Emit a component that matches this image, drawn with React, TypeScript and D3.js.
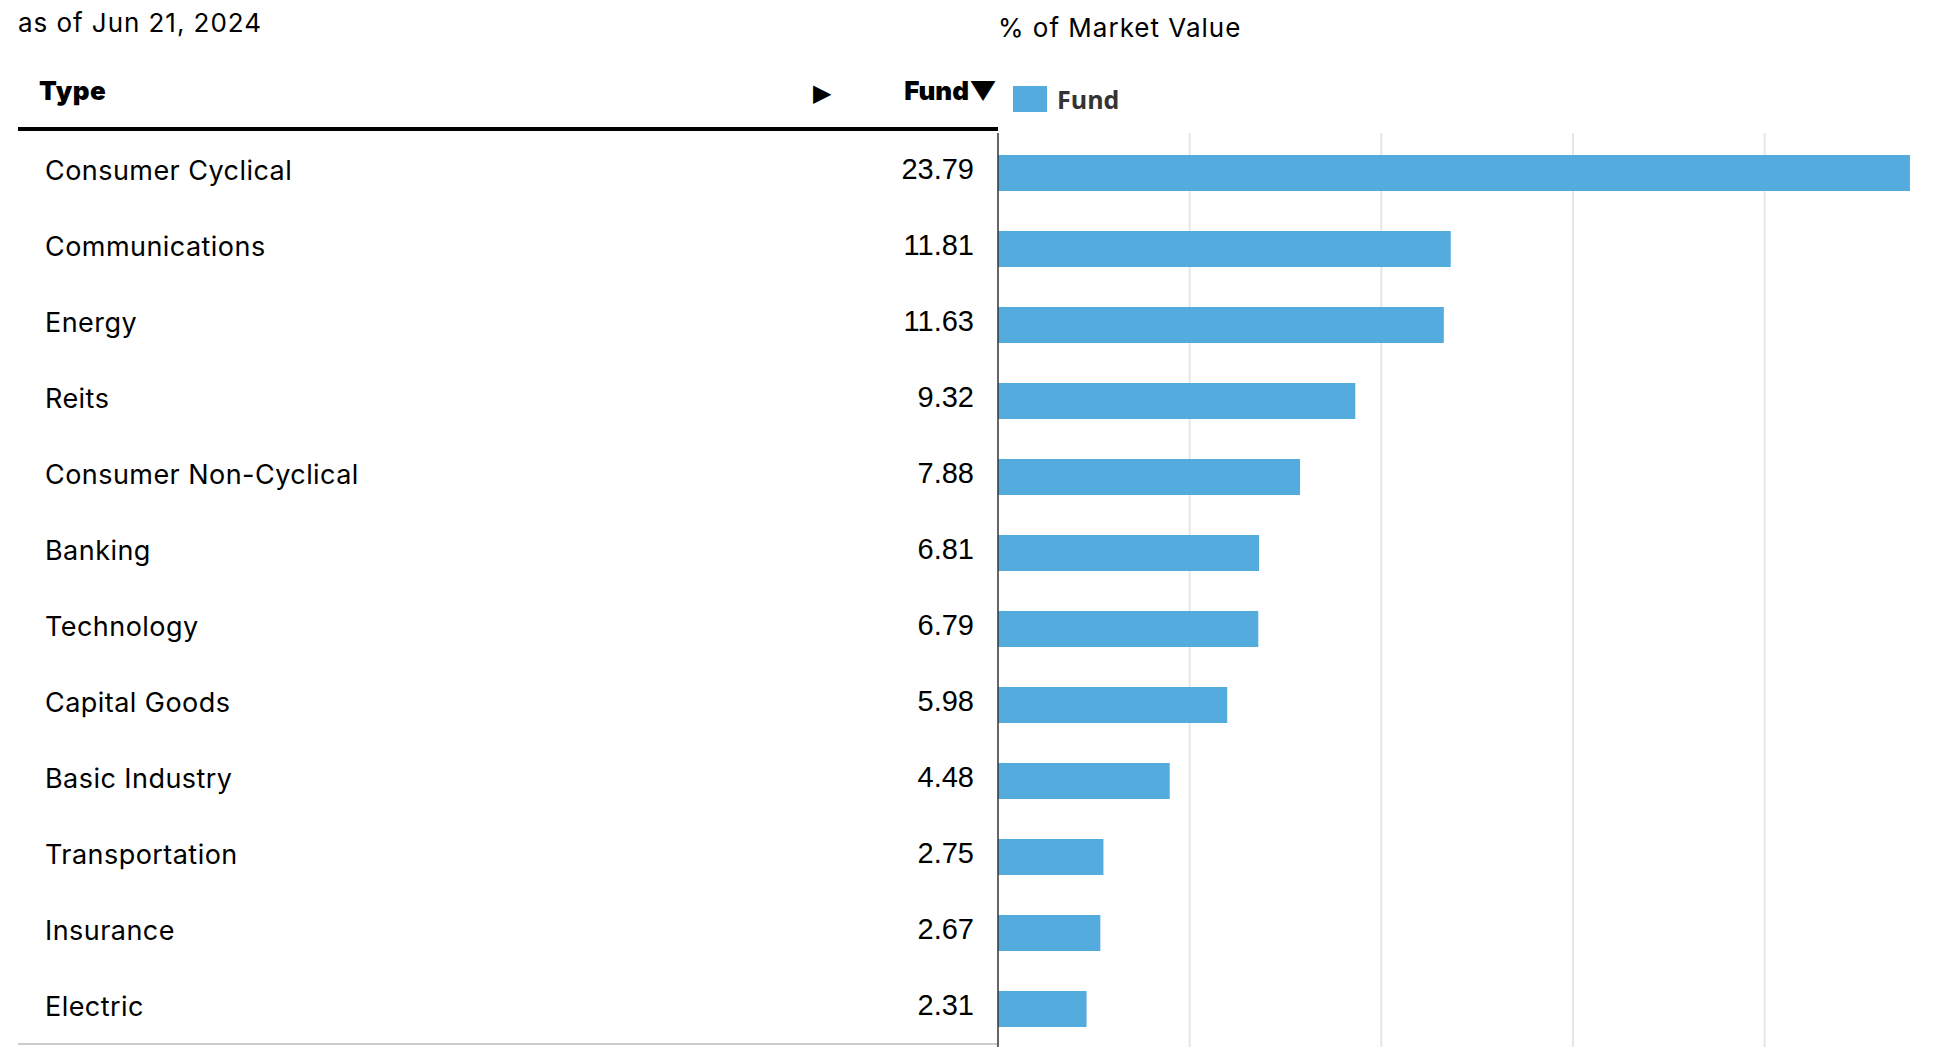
import * as d3 from "d3";
import { useEffect, useRef } from "react";

const categories = [
  "Consumer Cyclical",
  "Communications",
  "Energy",
  "Reits",
  "Consumer Non-Cyclical",
  "Banking",
  "Technology",
  "Capital Goods",
  "Basic Industry",
  "Transportation",
  "Insurance",
  "Electric",
];
const fundValues = [23.79, 11.81, 11.63, 9.32, 7.88, 6.81, 6.79, 5.98, 4.48, 2.75, 2.67, 2.31];
const gridTicks = [5, 10, 15, 20];
const asOfLabel = "as of Jun 21, 2024";
const chartTitle = "% of Market Value";
const seriesName = "Fund";

const BAR = "#54abde";
const LABEL_FONT = "Inter, Roboto, sans-serif";
const NUM_FONT = "'Liberation Sans', Arial, sans-serif";

const App = () => {
  const svgRef = useRef(null);
  const width = 1936;
  const height = 1052;

  useEffect(() => {
    const svg = d3.select(svgRef.current).attr("viewBox", `0 0 ${width} ${height}`);
    svg.selectAll("*").remove();

    const tableLeft = 18;
    const axisX = 998;
    const plotTop = 133;
    const plotBottom = 1047;

    const xScale = d3.scaleLinear().domain([0, 24]).range([axisX, 1918]);
    const yScale = d3
      .scaleBand()
      .domain(categories)
      .range([135, 1047])
      .paddingInner(40 / 76)
      .paddingOuter(20 / 76);

    // top labels
    svg
      .append("text")
      .attr("x", tableLeft)
      .attr("y", 32)
      .attr("font-family", LABEL_FONT)
      .attr("font-size", 26)
      .attr("letter-spacing", 0.95)
      .attr("fill", "#000")
      .text(asOfLabel);

    svg
      .append("text")
      .attr("x", axisX)
      .attr("y", 37)
      .attr("font-family", LABEL_FONT)
      .attr("font-size", 26)
      .attr("letter-spacing", 1)
      .attr("fill", "#000")
      .text(chartTitle);

    // table header
    svg
      .append("text")
      .attr("x", 39)
      .attr("y", 100)
      .attr("font-family", LABEL_FONT)
      .attr("font-size", 26)
      .attr("font-weight", 900)
      .attr("letter-spacing", 0.5)
      .text("Type");

    svg
      .append("text")
      .attr("x", 813)
      .attr("y", 101)
      .attr("font-family", NUM_FONT)
      .attr("font-size", 24)
      .text("\u25B6");

    svg
      .append("text")
      .attr("x", 997)
      .attr("y", 100)
      .attr("text-anchor", "end")
      .attr("font-family", LABEL_FONT)
      .attr("font-size", 26)
      .attr("font-weight", 900)
      .text(seriesName + "\u25BC");

    svg
      .append("line")
      .attr("x1", tableLeft)
      .attr("x2", axisX)
      .attr("y1", 129)
      .attr("y2", 129)
      .attr("stroke", "#000")
      .attr("stroke-width", 4);

    svg
      .append("line")
      .attr("x1", tableLeft)
      .attr("x2", axisX)
      .attr("y1", 1044)
      .attr("y2", 1044)
      .attr("stroke", "#cccccc")
      .attr("stroke-width", 2);

    // legend
    svg
      .append("rect")
      .attr("x", 1013)
      .attr("y", 86)
      .attr("width", 34)
      .attr("height", 26)
      .attr("fill", BAR);

    svg
      .append("text")
      .attr("x", 1057)
      .attr("y", 109)
      .attr("font-family", "'Open Sans', sans-serif")
      .attr("font-size", 25)
      .attr("font-weight", 700)
      .attr("fill", "#333")
      .text(seriesName);

    // gridlines
    svg
      .append("g")
      .selectAll("line")
      .data(gridTicks)
      .join("line")
      .attr("x1", (d) => xScale(d))
      .attr("x2", (d) => xScale(d))
      .attr("y1", plotTop)
      .attr("y2", plotBottom)
      .attr("stroke", "#e6e6e6")
      .attr("stroke-width", 2);

    const rows = categories.map((c, i) => ({ name: c, value: fundValues[i] }));

    // bars
    svg
      .append("g")
      .selectAll("rect")
      .data(rows)
      .join("rect")
      .attr("x", xScale(0))
      .attr("y", (d) => yScale(d.name)!)
      .attr("width", (d) => xScale(d.value) - xScale(0))
      .attr("height", yScale.bandwidth())
      .attr("fill", BAR);

    // axis line
    svg
      .append("line")
      .attr("x1", axisX)
      .attr("x2", axisX)
      .attr("y1", plotTop)
      .attr("y2", plotBottom)
      .attr("stroke", "#333")
      .attr("stroke-width", 1.5);

    // row labels
    svg
      .append("g")
      .selectAll("text")
      .data(rows)
      .join("text")
      .attr("x", 45)
      .attr("y", (d) => yScale(d.name)! + yScale.bandwidth() / 2 + 7)
      .attr("font-family", LABEL_FONT)
      .attr("font-size", 27)
      .attr("letter-spacing", 0.45)
      .attr("fill", "#000")
      .text((d) => d.name);

    // values
    svg
      .append("g")
      .selectAll("text")
      .data(rows)
      .join("text")
      .attr("x", 974)
      .attr("y", (d) => yScale(d.name)! + yScale.bandwidth() / 2 + 6)
      .attr("text-anchor", "end")
      .attr("font-family", NUM_FONT)
      .attr("font-size", 29)
      .attr("fill", "#000")
      .text((d) => d.value.toFixed(2));
  }, []);

  return (
    <svg
      ref={svgRef}
      width={width}
      height={height}
      style={{ position: "absolute", left: 0, top: 0, background: "#fff" }}
    />
  );
};

export default App;
